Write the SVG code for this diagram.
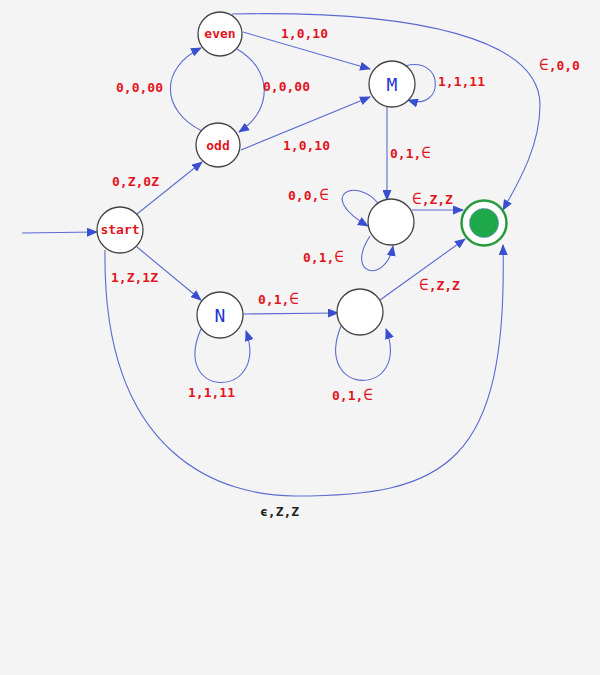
<svg xmlns="http://www.w3.org/2000/svg" width="600" height="675" viewBox="0 0 600 675">
<defs>
<marker id="arr" markerWidth="11" markerHeight="9" refX="10" refY="4.5" orient="auto" markerUnits="userSpaceOnUse">
<path d="M0,0 L11,4.5 L0,9 Z" fill="#3a4fd0"/>
</marker>
<style>
.n{fill:#ffffff;stroke:#444444;stroke-width:1.3}
.e{fill:none;stroke:#5a6ad2;stroke-width:1.1;marker-end:url(#arr)}
.l{font-family:"DejaVu Sans Mono","Liberation Mono",monospace;font-size:13px;font-weight:bold;fill:#e3141e}
.ep{font-family:"DejaVu Sans Mono",monospace;font-size:16px;font-weight:normal}
.nl{font-family:"DejaVu Sans Mono","Liberation Mono",monospace;font-size:13px;font-weight:bold;fill:#e3141e;text-anchor:middle}
.big{font-family:"DejaVu Sans Mono","Liberation Mono",monospace;font-size:18px;fill:#1a35d0;text-anchor:middle}
.k{font-family:"DejaVu Sans Mono","Liberation Mono",monospace;font-size:13px;font-weight:bold;fill:#222222}
</style>
</defs>
<rect width="600" height="675" fill="#f4f4f4"/>
<g id="connectors">
<path class="e" d="M22,233 L97,232"/>
<path class="e" d="M137,214 L202,162"/>
<path class="e" d="M202,131 C160,110 160,68 201,48"/>
<path class="e" d="M237,49 C273,70 273,110 239,132"/>
<path class="e" d="M243,32 L370,69"/>
<path class="e" d="M241,150 L370,97"/>
<path class="e" d="M405,66 C445,55 445,112 408,100"/>
<path class="e" d="M387,106 L387,200"/>
<path class="e" d="M378,203 C355,176 316,196 368,226"/>
<path class="e" d="M370,236 C344,276 386,284 393,246"/>
<path class="e" d="M412,210 L463,210"/>
<path class="e" d="M232,14 C420,10 540,40 540,105 C540,145 520,180 503,210"/>
<path class="e" d="M137,247 L201,300"/>
<path class="e" d="M201,329 C170,400 270,400 246,331"/>
<path class="e" d="M243,314 L338,313"/>
<path class="e" d="M341,326 C312,398 412,398 386,329"/>
<path class="e" d="M380,300 L465,239"/>
<path class="e" d="M105,250 C102,460 225,496 295,496 C445,496 508,465 503,245"/>
</g>
<g id="edge-labels">
<text class="l" x="112" y="186">0,Z,0Z</text>
<text class="l" x="116" y="92">0,0,00</text>
<text class="l" x="263" y="91">0,0,00</text>
<text class="l" x="281" y="38">1,0,10</text>
<text class="l" x="283" y="150">1,0,10</text>
<text class="l" x="438" y="86">1,1,11</text>
<text class="l" x="390" y="158">0,1,<tspan class="ep">∈</tspan></text>
<text class="l" x="539" y="70"><tspan class="ep">∈</tspan>,0,0</text>
<text class="l" x="288" y="200">0,0,<tspan class="ep">∈</tspan></text>
<text class="l" x="412" y="204"><tspan class="ep">∈</tspan>,Z,Z</text>
<text class="l" x="303" y="262">0,1,<tspan class="ep">∈</tspan></text>
<text class="l" x="111" y="282">1,Z,1Z</text>
<text class="l" x="258" y="304">0,1,<tspan class="ep">∈</tspan></text>
<text class="l" x="419" y="290"><tspan class="ep">∈</tspan>,Z,Z</text>
<text class="l" x="188" y="397">1,1,11</text>
<text class="l" x="332" y="400">0,1,<tspan class="ep">∈</tspan></text>
<text class="k" x="260" y="516">ϵ,Z,Z</text>
</g>
<g id="node-even"><circle class="n" cx="220" cy="34" r="22"/><text class="nl" x="220" y="38">even</text></g>
<g id="node-odd"><circle class="n" cx="218" cy="145" r="22"/><text class="nl" x="218" y="150">odd</text></g>
<g id="node-start"><circle class="n" cx="120" cy="230" r="23"/><text class="nl" x="120" y="234">start</text></g>
<g id="node-M"><circle class="n" cx="392" cy="84" r="23"/><text class="big" x="392" y="91">M</text></g>
<g id="node-N"><circle class="n" cx="220" cy="315" r="23"/><text class="big" x="220" y="322">N</text></g>
<g id="node-mid"><circle class="n" cx="391" cy="222" r="23"/></g>
<g id="node-lower"><circle class="n" cx="360" cy="312" r="23"/></g>
<g id="node-final">
<circle cx="484" cy="223" r="22.5" fill="#ffffff" stroke="#2a9a40" stroke-width="2.5"/>
<circle cx="484" cy="223" r="14.5" fill="#1fa84a" stroke="#6a7ad8" stroke-width="1" stroke-dasharray="1.5,1"/>
</g>
</svg>
